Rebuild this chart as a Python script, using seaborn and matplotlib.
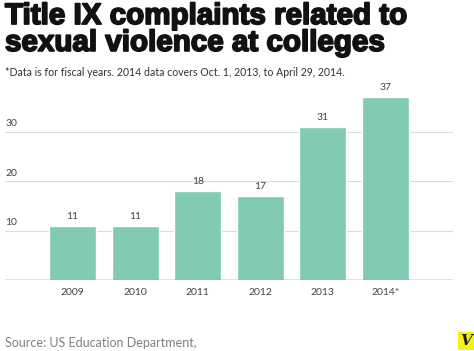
import matplotlib
matplotlib.use("Agg")
import matplotlib.pyplot as plt
import matplotlib.patheffects as pe
import seaborn as sns
import pandas as pd

years = ["2009", "2010", "2011", "2012", "2013", "2014*"]
complaints = [11, 11, 18, 17, 31, 37]
yticks = [10, 20, 30]

sns.set_theme(style="white")
plt.rcParams['font.family'] = ['Lato', 'DejaVu Sans']

W, H = 474, 351
fig = plt.figure(figsize=(W / 100, H / 100), dpi=100)
ax = fig.add_axes([5 / W, 1 - 280 / H, (453 - 5) / W, (280 - 85) / H])

df = pd.DataFrame({"year": years, "n": complaints})
sns.barplot(data=df, x="year", y="n", color="#80cbb1", saturation=1,
            width=0.75, ax=ax, zorder=3)

ax.set_xlim(-1.08, 6.08)
ymax = 39.4
ax.set_ylim(0, ymax)
for t in yticks:
    ax.axhline(t, color="#dcdcdc", lw=0.8, zorder=1)
    ax.text(-1.07, t + 0.7, str(t), fontsize=7.5, color="#444444",
            ha="left", va="bottom")
ax.axhline(0, color="#666666", lw=1.0, zorder=4)

for i, v in enumerate(complaints):
    ax.text(i, v + 1.0, str(v), ha="center", va="bottom", fontsize=7.5,
            color="#444444")

ax.set_yticks([])
ax.set_xlabel("")
ax.set_ylabel("")
ax.tick_params(axis="x", length=0, labelsize=7.5, labelcolor="#444444", pad=6)
for s in ax.spines.values():
    s.set_visible(False)

fig.text(5 / W, 1 - 2 / H, "Title IX complaints related to\nsexual violence at colleges",
         fontsize=21.3, fontweight="bold", family=["Liberation Sans"], color="#111111",
         ha="left", va="top", linespacing=0.95,
         path_effects=[pe.withStroke(linewidth=1.3, foreground="#111111")])
fig.text(5 / W, 1 - 73 / H,
         "*Data is for fiscal years. 2014 data covers Oct. 1, 2013, to April 29, 2014.",
         fontsize=7.6, color="#333333", ha="left", va="center")
fig.text(5 / W, 1 - 343 / H, "Source: US Education Department,",
         fontsize=9, color="#808080", ha="left", va="center")
fig.text(466 / W, 1 - 341 / H, "V", fontsize=11, fontweight="bold",
         fontstyle="italic", family=["DejaVu Serif"], color="#222222",
         ha="center", va="center",
         bbox=dict(boxstyle="square,pad=0.12", fc="#f2f21a", ec="none"))

fig.savefig("out.png", dpi=100)
